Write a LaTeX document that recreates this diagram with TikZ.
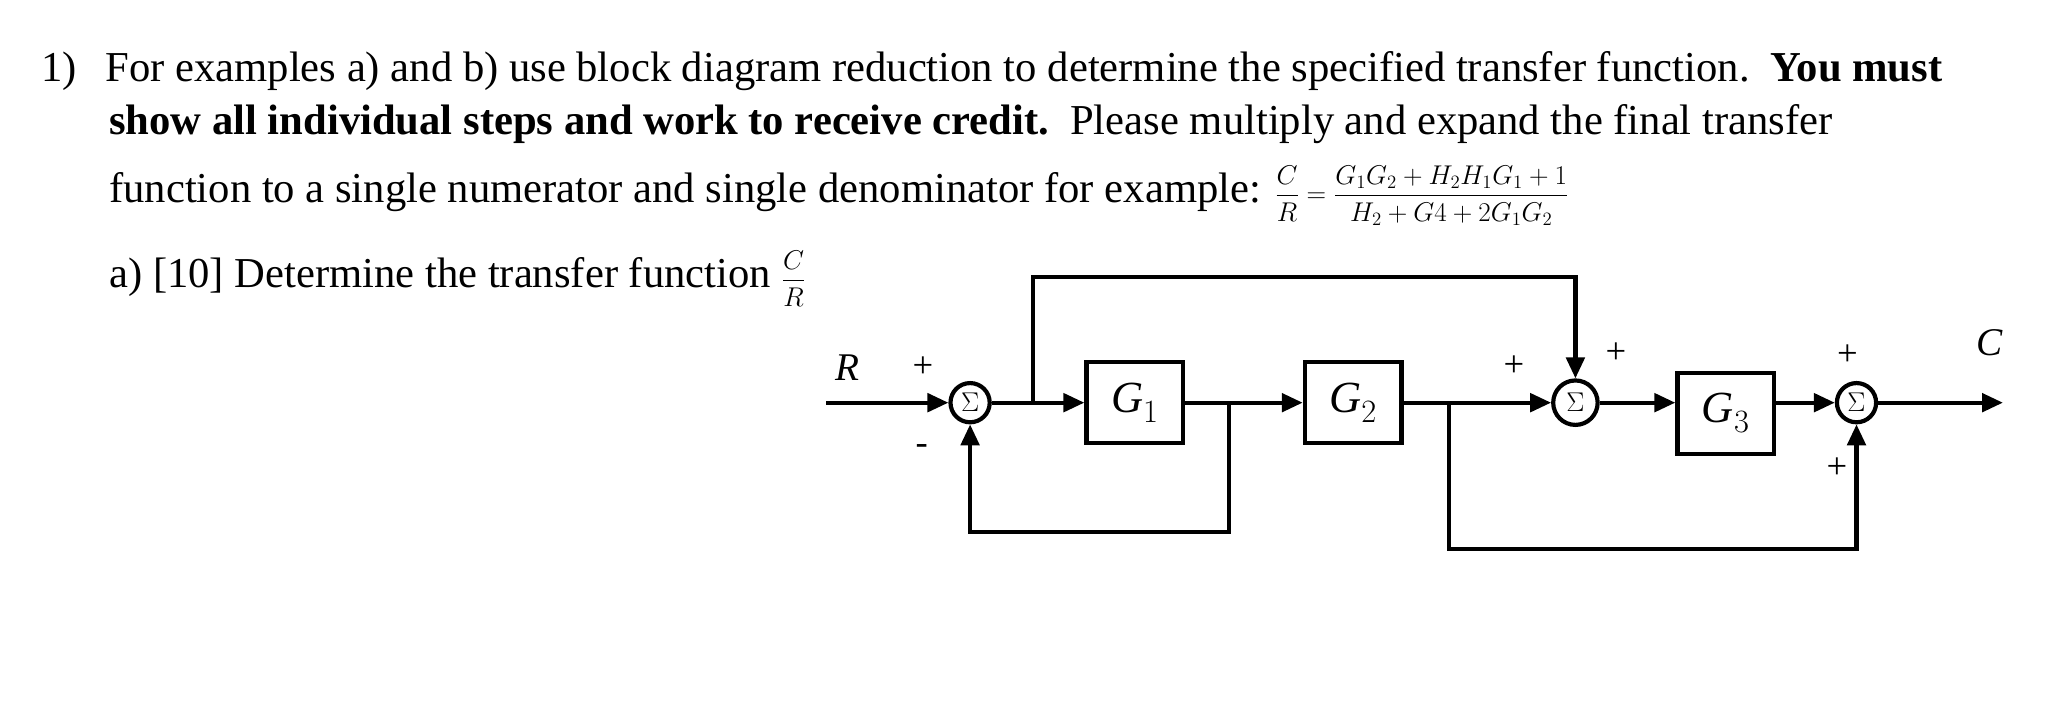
\documentclass[tikz,border=0pt]{standalone}
\usepackage{amsmath}
\usepackage{fontspec}
\setmainfont{Liberation Serif}
\usetikzlibrary{arrows.meta}
\begin{document}
\begin{tikzpicture}[x=1pt,y=-1pt,
  line width=3.2pt,
  txt/.style={anchor=base west,inner sep=0pt,font=\fontsize{32.6}{38}\selectfont},
  blk/.style={draw,minimum width=74pt,minimum height=62pt,inner sep=0pt,font=\fontsize{34}{40}\selectfont\itshape},
  sumn/.style={draw,circle,minimum size=30pt,inner sep=0pt,font=\fontsize{20}{22}\selectfont\bfseries},
  arr/.style={-{Triangle[length=16pt,width=14pt]}},
  sgn/.style={font=\fontsize{28}{30}\selectfont,inner sep=0pt}]
\useasboundingbox (0,0) rectangle (1568,551);
\node[txt] (l1) at (30,62) {1)\hspace{22pt}For examples a) and b) use block diagram reduction to determine the specified transfer function.\ \ \textbf{You must}};
\node[txt] (l2) at (82,103) {\textbf{show all individual steps and work to receive credit.}\ \ Please multiply and expand the final transfer};
\node[txt] (l3) at (82,155) {function to a single numerator and single denominator for example: {\fontsize{22}{26}\selectfont$\displaystyle\frac{C}{R}=\frac{G_1G_2+H_2H_1G_1+1}{H_2+G4+2G_1G_2}$}};
\node[txt] (l4) at (82,220) {a) [10] Determine the transfer function {\fontsize{22}{26}\selectfont$\displaystyle\frac{C}{R}$}};
% diagram
\node[sumn] (s1) at (742,308) {$\Sigma$};
\node[blk] (g1) at (868,308) {G$_1$};
\node[blk] (g2) at (1035,308) {G$_2$};
\node[sumn,minimum size=34pt] (s2) at (1205,308) {$\Sigma$};
\node[blk] (g3) at (1320,316) {G$_3$};
\node[sumn] (s3) at (1420,308) {$\Sigma$};
\coordinate (in) at (632,308);
\coordinate (out) at (1532,308);
\coordinate (b1) at (790,308);
\coordinate (b2) at (940,308);
\coordinate (b3) at (1108,308);
\draw[arr] (in) -- (s1);
\draw[arr] (s1) -- (g1);
\draw[arr] (g1) -- (g2);
\draw[arr] (g2) -- (s2);
\draw[arr] (s2) -- (g3.west |- s2);
\draw[arr] (g3.east |- s3) -- (s3);
\draw[arr] (s3) -- (out);
\draw[arr] (b2) |- (742,407) -- (s1);
\draw[arr] (b1) |- (1205,212) -- (s2);
\draw[arr] (b3) |- (1420,420) -- (s3);
\node[font=\fontsize{30}{34}\selectfont\itshape] (R) at (648,281) {R};
\node[font=\fontsize{30}{34}\selectfont\itshape] (C) at (1522,262) {C};
\node[sgn] (p1) at (706,281) {+};
\node[sgn] (m1) at (705,344) {-};
\node[sgn] (p2) at (1158,280) {+};
\node[sgn] (p3) at (1236,270) {+};
\node[sgn] (p4) at (1413,272) {+};
\node[sgn] (p5) at (1405,358) {+};
\end{tikzpicture}
\end{document}
